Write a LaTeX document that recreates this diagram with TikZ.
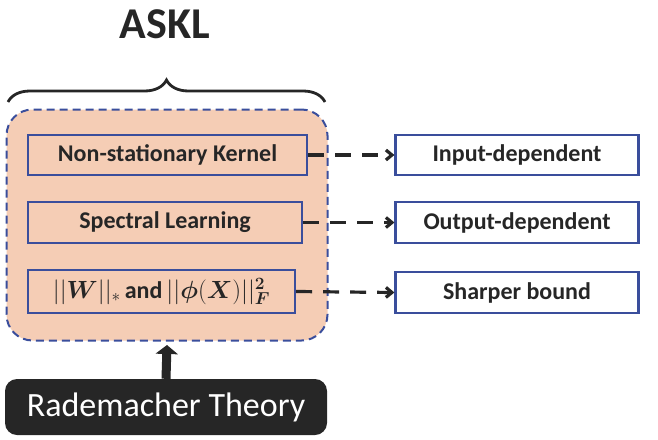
\documentclass[tikz,border=0pt]{standalone}
\usepackage{amsmath,bm}
\usepackage{fontspec}
\setmainfont{Carlito}
\usetikzlibrary{arrows.meta,decorations.pathreplacing}
\definecolor{peach}{HTML}{F5CDB5}
\definecolor{bblue}{HTML}{3A4E9C}
\begin{document}
\begin{tikzpicture}[x=1pt,y=-1pt,
  inbox/.style={draw=bblue,line width=2.2pt,inner sep=0pt,font=\bfseries\fontsize{24}{28}\selectfont,text=black!85},
  outbox/.style={inbox,fill=white},
  link/.style={line width=3.2pt,black!85,dash pattern=on 16pt off 11pt,-{Straight Barb[length=6pt,width=10pt]}}]
\useasboundingbox (0,0) rectangle (658,439);
\node[font=\bfseries\fontsize{44}{50}\selectfont,text=black!85] (title) at (165,24) {ASKL};
\draw[line width=2.8pt,black!85,decorate,decoration={brace,amplitude=22pt}] (8,102) -- (325,102);
\node[draw=bblue,dash pattern=on 8pt off 5pt,line width=2pt,fill=peach,rounded corners=26pt,minimum width=321pt,minimum height=231pt] (outer) at (167,225) {};
\node[inbox,minimum width=279pt,minimum height=40pt] (b1) at (167.5,155) {Non-stationary Kernel};
\node[inbox,minimum width=274pt,minimum height=41pt] (b2) at (165,222.5) {Spectral Learning};
\node[inbox,minimum width=267pt,minimum height=43pt] (b3) at (161.5,291.5) {$||\bm{W}||_{*}$\,and\,$||\bm{\phi}(\bm{X})||_{\bm F}^{\bm 2}$};
\node[outbox,minimum width=243pt,minimum height=40pt] (r1) at (517,155) {Input-dependent};
\node[outbox,minimum width=243pt,minimum height=41pt] (r2) at (517,222.5) {Output-dependent};
\node[outbox,minimum width=243pt,minimum height=41pt] (r3) at (517,292.5) {Sharper bound};
\draw[link] (b1.east) -- (r1.west);
\draw[link] (b2.east) -- (r2.west);
\draw[link] (b3.east) -- (r3.west);
\node[fill=black!85,rounded corners=12pt,minimum width=322pt,minimum height=56pt,text=white,font=\fontsize{34}{40}\selectfont] (rt) at (166,407) {Rademacher Theory};
\coordinate (up) at (167,345);
\draw[line width=9pt,black!85,-{Triangle[length=9pt,width=22pt]}] (rt.north) -- (up);
\end{tikzpicture}
\end{document}
